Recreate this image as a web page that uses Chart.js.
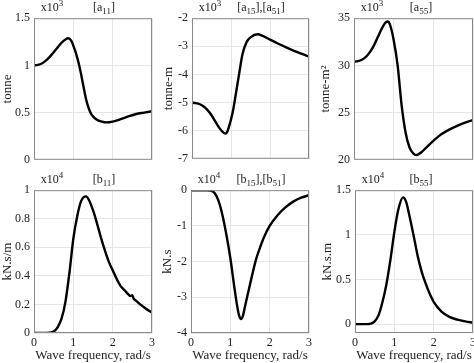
<!DOCTYPE html>
<html>
<head>
<meta charset="utf-8">
<script src="https://cdn.jsdelivr.net/npm/chart.js@4.4.1/dist/chart.umd.min.js"></script>
<style>
    body { margin: 0; width: 474px; height: 363px; overflow: hidden; background: #fff; position: relative; font-family: 'Liberation Serif', 'DejaVu Serif', serif; }
    .caixa { position: absolute; }
    .lbl { position: absolute; font-size: 12px; color: #222; white-space: nowrap; line-height: 14px; transform: translateX(-50%); }
    .lbl sub { font-size: 9px; vertical-align: -3px; line-height: 0; }
    .lbl sup { font-size: 9px; vertical-align: 5px; line-height: 0; }
</style>
</head>
<body>
<script>
// frequência (rad/s) e valores
const xTicks = [0, 1, 2, 3];

const freqA11 = [0, 0.1, 0.2, 0.3, 0.4, 0.5, 0.6, 0.7, 0.8, 0.87, 0.95, 1.0, 1.05, 1.1, 1.15, 1.2, 1.27, 1.33, 1.4, 1.45, 1.5, 1.6, 1.7, 1.85, 2.0, 2.2, 2.4, 2.6, 2.8, 3.0];
const a11 = [1.0, 1.005, 1.02, 1.05, 1.09, 1.14, 1.19, 1.24, 1.275, 1.287, 1.26, 1.21, 1.15, 1.08, 1.0, 0.9, 0.75, 0.63, 0.535, 0.49, 0.46, 0.425, 0.408, 0.396, 0.405, 0.43, 0.46, 0.485, 0.5, 0.515];

const freqA15 = [0, 0.1, 0.2, 0.3, 0.4, 0.5, 0.6, 0.7, 0.8, 0.85, 0.9, 0.95, 1.0, 1.05, 1.1, 1.2, 1.3, 1.4, 1.5, 1.68, 1.8, 2.0, 2.2, 2.4, 2.6, 2.8, 3.0];
const a15 = [-5.0, -5.02, -5.06, -5.14, -5.27, -5.45, -5.68, -5.9, -6.06, -6.1, -6.05, -5.85, -5.6, -5.3, -4.9, -4.05, -3.25, -2.85, -2.68, -2.57, -2.62, -2.76, -2.9, -3.03, -3.15, -3.26, -3.36];

const freqA55 = [0, 0.1, 0.2, 0.3, 0.4, 0.5, 0.6, 0.7, 0.8, 0.85, 0.9, 1.0, 1.1, 1.2, 1.3, 1.4, 1.5, 1.56, 1.62, 1.7, 1.8, 2.0, 2.2, 2.4, 2.6, 2.8, 3.0];
const a55 = [30.4, 30.45, 30.6, 30.9, 31.4, 32.1, 33.0, 33.9, 34.55, 34.65, 34.4, 32.7, 30.0, 25.8, 22.9, 21.3, 20.65, 20.5, 20.58, 20.8, 21.2, 22.0, 22.7, 23.2, 23.6, 23.95, 24.2];

const freqB11 = [0, 0.2, 0.4, 0.5, 0.6, 0.7, 0.8, 0.9, 1.0, 1.1, 1.2, 1.32, 1.4, 1.5, 1.6, 1.7, 1.8, 1.9, 2.0, 2.1, 2.2, 2.3, 2.4, 2.45, 2.5, 2.53, 2.6, 2.7, 2.8, 2.9, 3.0];
const b11 = [0, 0, 0.002, 0.01, 0.04, 0.1, 0.22, 0.42, 0.66, 0.82, 0.925, 0.957, 0.93, 0.86, 0.77, 0.67, 0.58, 0.5, 0.44, 0.38, 0.33, 0.3, 0.27, 0.258, 0.265, 0.243, 0.225, 0.2, 0.18, 0.16, 0.145];

const freqB15 = [0, 0.4, 0.5, 0.6, 0.7, 0.8, 0.9, 1.0, 1.1, 1.17, 1.22, 1.27, 1.32, 1.37, 1.45, 1.55, 1.65, 1.75, 1.85, 2.0, 2.2, 2.4, 2.6, 2.8, 3.0];
const b15 = [0, 0, -0.01, -0.08, -0.3, -0.7, -1.25, -1.9, -2.7, -3.22, -3.5, -3.61, -3.52, -3.27, -2.88, -2.4, -1.95, -1.62, -1.33, -1.0, -0.7, -0.48, -0.32, -0.21, -0.14];

const freqB55 = [0, 0.3, 0.4, 0.5, 0.6, 0.7, 0.8, 0.9, 1.0, 1.1, 1.22, 1.3, 1.4, 1.5, 1.6, 1.7, 1.8, 1.9, 2.0, 2.2, 2.4, 2.6, 2.8, 3.0];
const b55 = [0, 0, 0.005, 0.03, 0.1, 0.25, 0.45, 0.72, 1.03, 1.28, 1.42, 1.37, 1.18, 0.97, 0.75, 0.58, 0.45, 0.34, 0.25, 0.14, 0.08, 0.05, 0.03, 0.015];

const ticksA11 = [0, 0.5, 1, 1.5];
const ticksA15 = [-7, -6, -5, -4, -3, -2];
const ticksA55 = [20, 25, 30, 35];
const ticksB11 = [0, 0.2, 0.4, 0.6, 0.8, 1];
const ticksB15 = [-4, -3, -2, -1, 0];
const ticksB55 = [0, 0.5, 1, 1.5];

// caixa em volta da área do gráfico (estilo MATLAB)
const moldura = {
    id: 'moldura',
    afterDraw(chart) {
        const a = chart.chartArea;
        const ctx = chart.ctx;
        ctx.save();
        ctx.strokeStyle = '#8a8a8a';
        ctx.lineWidth = 1;
        ctx.strokeRect(a.left + 0.5, a.top + 0.5, a.right - a.left - 1, a.bottom - a.top - 1);
        ctx.restore();
    }
};

function criarPainel(p) {
    const inferior = p.inferior;
    const largura = p.R - p.L + p.eixoW + 8;
    const altura = p.B - p.T + 8 + (inferior ? 30 : 8);
    const div = document.createElement('div');
    div.className = 'caixa';
    div.style.left = (p.L - p.eixoW) + 'px';
    div.style.top = (p.T - 8) + 'px';
    div.style.width = largura + 'px';
    div.style.height = altura + 'px';
    const canvas = document.createElement('canvas');
    canvas.width = largura;
    canvas.height = altura;
    div.appendChild(canvas);
    document.body.appendChild(div);

    const pontos = p.xs.map((x, i) => ({ x: x, y: p.ys[i] }));

    new Chart(canvas.getContext('2d'), {
        type: 'line',
        data: {
            datasets: [{
                data: pontos,
                borderColor: '#000',
                borderWidth: 2.4,
                pointRadius: 0,
                cubicInterpolationMode: 'monotone',
                fill: false
            }]
        },
        options: {
            responsive: false,
            animation: false,
            devicePixelRatio: 1,
            layout: { padding: { top: 8, right: 8, bottom: inferior ? 0 : 8, left: 0 } },
            plugins: { legend: { display: false }, tooltip: { enabled: false } },
            scales: {
                x: {
                    type: 'linear', min: 0, max: 3,
                    afterBuildTicks: s => { s.ticks = xTicks.map(v => ({ value: v })); },
                    afterFit: s => { s.height = inferior ? 30 : 0; },
                    border: { display: false },
                    grid: { color: '#e6e6e6', drawTicks: false },
                    ticks: { display: inferior, color: '#222', padding: 3, maxRotation: 0,
                             callback: v => String(v),
                             font: { family: 'Liberation Serif', size: 12 } },
                    title: { display: inferior, text: 'Wave frequency, rad/s', color: '#222',
                             padding: 0, font: { family: 'Liberation Serif', size: 13 } }
                },
                y: {
                    min: p.ymin, max: p.ticks[p.ticks.length - 1],
                    afterBuildTicks: s => { s.ticks = p.ticks.map(v => ({ value: v })); },
                    afterFit: s => { s.width = p.eixoW; },
                    border: { display: false },
                    grid: { color: '#e6e6e6', drawTicks: false },
                    ticks: { color: '#222', padding: 4, callback: v => String(v),
                             font: { family: 'Liberation Serif', size: 12 } },
                    title: { display: true, text: p.tituloY, color: '#222', padding: 0,
                             font: { family: 'Liberation Serif', size: 13 } }
                }
            }
        },
        plugins: [moldura]
    });

    // expoente e título acima de cada painel
    const exp = document.createElement('div');
    exp.className = 'lbl';
    exp.style.left = (p.L + 18) + 'px';
    exp.style.top = (p.T - 15) + 'px';
    exp.innerHTML = p.expoente;
    document.body.appendChild(exp);

    const tit = document.createElement('div');
    tit.className = 'lbl';
    tit.style.left = p.tituloX + 'px';
    tit.style.top = (p.T - 15) + 'px';
    tit.innerHTML = p.titulo;
    document.body.appendChild(tit);
}

criarPainel({ L: 34, T: 15, R: 152, B: 163, eixoW: 34, inferior: false, xs: freqA11, ys: a11,
    ticks: ticksA11, ymin: 0, tituloY: 'tonne', expoente: 'x10<sup>3</sup>', titulo: '[a<sub>11</sub>]', tituloX: 104 });
criarPainel({ L: 192, T: 15, R: 309, B: 162, eixoW: 31, inferior: false, xs: freqA15, ys: a15,
    ticks: ticksA15, ymin: -7, tituloY: 'tonne-m', expoente: 'x10<sup>3</sup>', titulo: '[a<sub>15</sub>],[a<sub>51</sub>]', tituloX: 261 });
criarPainel({ L: 354, T: 15, R: 473, B: 163, eixoW: 36, inferior: false, xs: freqA55, ys: a55,
    ticks: ticksA55, ymin: 20, tituloY: 'tonne-m²', expoente: 'x10<sup>3</sup>', titulo: '[a<sub>55</sub>]', tituloX: 421 });
criarPainel({ L: 34, T: 187, R: 152, B: 333, eixoW: 34, inferior: true, xs: freqB11, ys: b11,
    ticks: ticksB11, ymin: 0, tituloY: 'kN.s/m', expoente: 'x10<sup>4</sup>', titulo: '[b<sub>11</sub>]', tituloX: 104 });
criarPainel({ L: 191, T: 187, R: 309, B: 333, eixoW: 31, inferior: true, xs: freqB15, ys: b15,
    ticks: ticksB15, ymin: -4, tituloY: 'kN.s', expoente: 'x10<sup>4</sup>', titulo: '[b<sub>15</sub>],[b<sub>51</sub>]', tituloX: 261 });
criarPainel({ L: 355, T: 187, R: 473, B: 333, eixoW: 35, inferior: true, xs: freqB55, ys: b55,
    ticks: ticksB55, ymin: -0.1, tituloY: 'kN.s.m', expoente: 'x10<sup>4</sup>', titulo: '[b<sub>55</sub>]', tituloX: 421 });
</script>
</body>
</html>
